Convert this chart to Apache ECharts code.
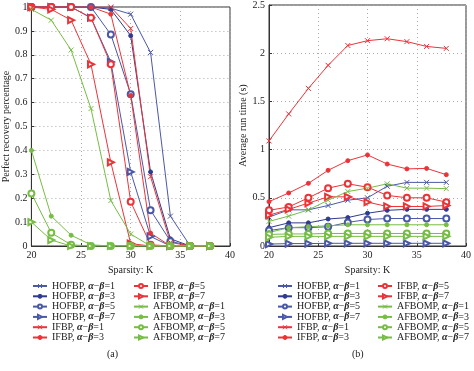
<!DOCTYPE html>
<html>
<head>
<meta charset="utf-8">
<script src="https://cdn.jsdelivr.net/npm/echarts@6/dist/echarts.min.js"></script>
<style>html,body{margin:0;padding:0;background:#fff}#c{width:474px;height:371px}</style>
</head>
<body>
<div id="c"></div>
<script>
const sparsity = [20,22,24,26,28,30,32,34,36,38];
const seriesNames = ['HOFBP, α−β=1','HOFBP, α−β=3','HOFBP, α−β=5','HOFBP, α−β=7',
  'IFBP, α−β=1','IFBP, α−β=3','IFBP, α−β=5','IFBP, α−β=7',
  'AFBOMP, α−β=1','AFBOMP, α−β=3','AFBOMP, α−β=5','AFBOMP, α−β=7'];
const xTicks = [20,25,30,35,40];
const recoveryTicks = [0,0.1,0.2,0.3,0.4,0.5,0.6,0.7,0.8,0.9,1];
const timeTicks = [0,0.5,1,1.5,2,2.5];

// (a) Perfect recovery percentage
const recHOFBP1 = [1,1,1,1,0.995,0.97,0.81,0.125,0,0];
const recHOFBP3 = [1,1,1,1,0.99,0.88,0.31,0.03,0,0];
const recHOFBP5 = [1,1,1,1,0.885,0.635,0.15,0.02,0,0];
const recHOFBP7 = [1,1,1,0.955,0.77,0.31,0.04,0,0,0];
const recIFBP1 = [1,1,1,1,1,0.91,0.29,0.015,0,0];
const recIFBP3 = [1,1,1,1,0.97,0.63,0.054,0,0,0];
const recIFBP5 = [1,1,1,0.955,0.76,0.185,0.005,0,0,0];
const recIFBP7 = [1,0.99,0.945,0.76,0.35,0.01,0,0,0,0];
const recAFBOMP1 = [0.99,0.945,0.82,0.575,0.19,0.05,0,0,0,0];
const recAFBOMP3 = [0.40,0.125,0.045,0.005,0,0,0,0,0,0];
const recAFBOMP5 = [0.22,0.055,0.005,0,0,0,0,0,0,0];
const recAFBOMP7 = [0.10,0.025,0,0,0,0,0,0,0,0];

// (b) Average run time (s)
const timeHOFBP1 = [0.30,0.375,0.375,0.42,0.475,0.50,0.62,0.66,0.66,0.66];
const timeHOFBP3 = [0.19,0.24,0.24,0.28,0.295,0.34,0.37,0.38,0.38,0.38];
const timeHOFBP5 = [0.16,0.19,0.19,0.20,0.245,0.275,0.285,0.285,0.285,0.285];
const timeHOFBP7 = [0.02,0.025,0.025,0.028,0.028,0.028,0.028,0.028,0.028,0.028];
const timeIFBP1 = [1.09,1.37,1.635,1.874,2.08,2.13,2.15,2.12,2.07,2.05];
const timeIFBP3 = [0.46,0.55,0.65,0.785,0.885,0.945,0.85,0.80,0.805,0.74];
const timeIFBP5 = [0.37,0.405,0.50,0.60,0.645,0.61,0.525,0.50,0.50,0.455];
const timeIFBP7 = [0.32,0.38,0.445,0.51,0.51,0.455,0.41,0.41,0.41,0.42];
const timeAFBOMP1 = [0.255,0.31,0.375,0.475,0.565,0.60,0.645,0.60,0.60,0.595];
const timeAFBOMP3 = [0.14,0.19,0.20,0.21,0.22,0.22,0.22,0.22,0.22,0.22];
const timeAFBOMP5 = [0.12,0.125,0.125,0.13,0.13,0.13,0.13,0.13,0.13,0.13];
const timeAFBOMP7 = [0.09,0.10,0.10,0.10,0.10,0.10,0.10,0.10,0.10,0.10];

const recData = [recHOFBP1,recHOFBP3,recHOFBP5,recHOFBP7,recIFBP1,recIFBP3,recIFBP5,recIFBP7,recAFBOMP1,recAFBOMP3,recAFBOMP5,recAFBOMP7];
const timeData = [timeHOFBP1,timeHOFBP3,timeHOFBP5,timeHOFBP7,timeIFBP1,timeIFBP3,timeIFBP5,timeIFBP7,timeAFBOMP1,timeAFBOMP3,timeAFBOMP5,timeAFBOMP7];

const BLUE = '#4a58a8', DBLUE = '#2f3b8e', RED = '#ec3338', GREEN = '#76bd43';
const colors = [BLUE,DBLUE,BLUE,BLUE,RED,RED,RED,RED,GREEN,GREEN,GREEN,GREEN];
const XPATH = 'path://M0,0L10,10M0,10L10,0';
function symFor(i){
  const k = i % 4;
  if (k === 0) return {symbol: XPATH, symbolSize: 5, symbolRotate: 0};
  if (k === 1) return {symbol: 'circle', symbolSize: 4, symbolRotate: 0};
  if (k === 2) return {symbol: 'emptyCircle', symbolSize: 6, symbolRotate: 0};
  return {symbol: 'emptyTriangle', symbolSize: 6, symbolRotate: -90};
}
const FONT = 'Liberation Serif';
const series = [];
function addSeries(dataArr, axisIdx){
  dataArr.forEach((vals, i) => {
    const s = symFor(i);
    series.push({
      type: 'line', name: seriesNames[i],
      xAxisIndex: axisIdx, yAxisIndex: axisIdx,
      data: sparsity.map((x, j) => [x, vals[j]]),
      symbol: s.symbol, symbolSize: s.symbolSize, symbolRotate: s.symbolRotate,
      showSymbol: true, animation: false,
      lineStyle: {color: colors[i], width: 1},
      itemStyle: {color: colors[i], borderColor: colors[i], borderWidth: 1},
      emphasis: {disabled: true}
    });
  });
}
addSeries(recData, 0);
addSeries(timeData, 1);

function xAxisCfg(idx){
  return {
    type: 'value', gridIndex: idx, min: 20, max: 40, interval: 5,
    name: 'Sparsity: K', nameLocation: 'middle', nameGap: 19,
    nameTextStyle: {fontFamily: FONT, fontSize: 10, color: '#222'},
    axisLine: {show: true, lineStyle: {color: '#333', width: 1}},
    axisTick: {show: true, inside: true, length: 3, lineStyle: {color: '#333'}},
    axisLabel: {fontFamily: FONT, fontSize: 10, color: '#222', margin: 4},
    splitLine: {show: true, lineStyle: {type: [1,3], color: '#aaa', width: 1}}
  };
}
function yAxisCfg(idx, max, interval, name){
  return {
    type: 'value', gridIndex: idx, min: 0, max: max, interval: interval,
    name: name, nameLocation: 'middle', nameGap: idx === 0 ? 16 : 12,
    nameTextStyle: {fontFamily: FONT, fontSize: 10, color: '#222'},
    axisLine: {show: true, lineStyle: {color: '#333', width: 1}},
    axisTick: {show: true, inside: true, length: 3, lineStyle: {color: '#333'}},
    axisLabel: {fontFamily: FONT, fontSize: 10, color: '#222', margin: 4},
    splitLine: {show: true, lineStyle: {type: [1,3], color: '#aaa', width: 1}}
  };
}
function legendCfg(left, names){
  return {
    orient: 'vertical', left: left, top: 276,
    data: names, itemWidth: 14, itemHeight: 5, itemGap: 0.3,
    selectedMode: false,
    itemStyle: {borderWidth: 1},
    textStyle: {fontFamily: FONT, fontSize: 10, color: '#222', lineHeight: 10,
      rich: {i: {fontFamily: FONT, fontSize: 10, fontStyle: 'italic', fontWeight: 'bold', color: '#222', lineHeight: 10}}},
    formatter: n => n.replace('α', '{i|α}').replace('β', '{i|β}')
  };
}
const chart = echarts.init(document.getElementById('c'));
chart.setOption({
  backgroundColor: '#fff',
  animation: false,
  grid: [
    {left: 26, top: 7, width: 204, height: 239, show: true, borderColor: '#333', borderWidth: 1, containLabel: false},
    {left: 269, top: 5, width: 200, height: 241, show: true, borderColor: '#333', borderWidth: 1, containLabel: false}
  ],
  xAxis: [xAxisCfg(0), xAxisCfg(1)],
  yAxis: [yAxisCfg(0, 1, 0.1, 'Perfect recovery percentage'), yAxisCfg(1, 2.5, 0.5, 'Average run time (s)')],
  legend: [
    legendCfg(27, seriesNames.slice(0,6)),
    legendCfg(128, seriesNames.slice(6)),
    legendCfg(272, seriesNames.slice(0,6)),
    legendCfg(372, seriesNames.slice(6))
  ],
  graphic: [
    {type: 'text', left: 107, top: 349, style: {text: '(a)', font: '10px "Liberation Serif"', fill: '#222'}},
    {type: 'text', left: 352, top: 349, style: {text: '(b)', font: '10px "Liberation Serif"', fill: '#222'}}
  ],
  series: series
});
</script>
</body>
</html>
